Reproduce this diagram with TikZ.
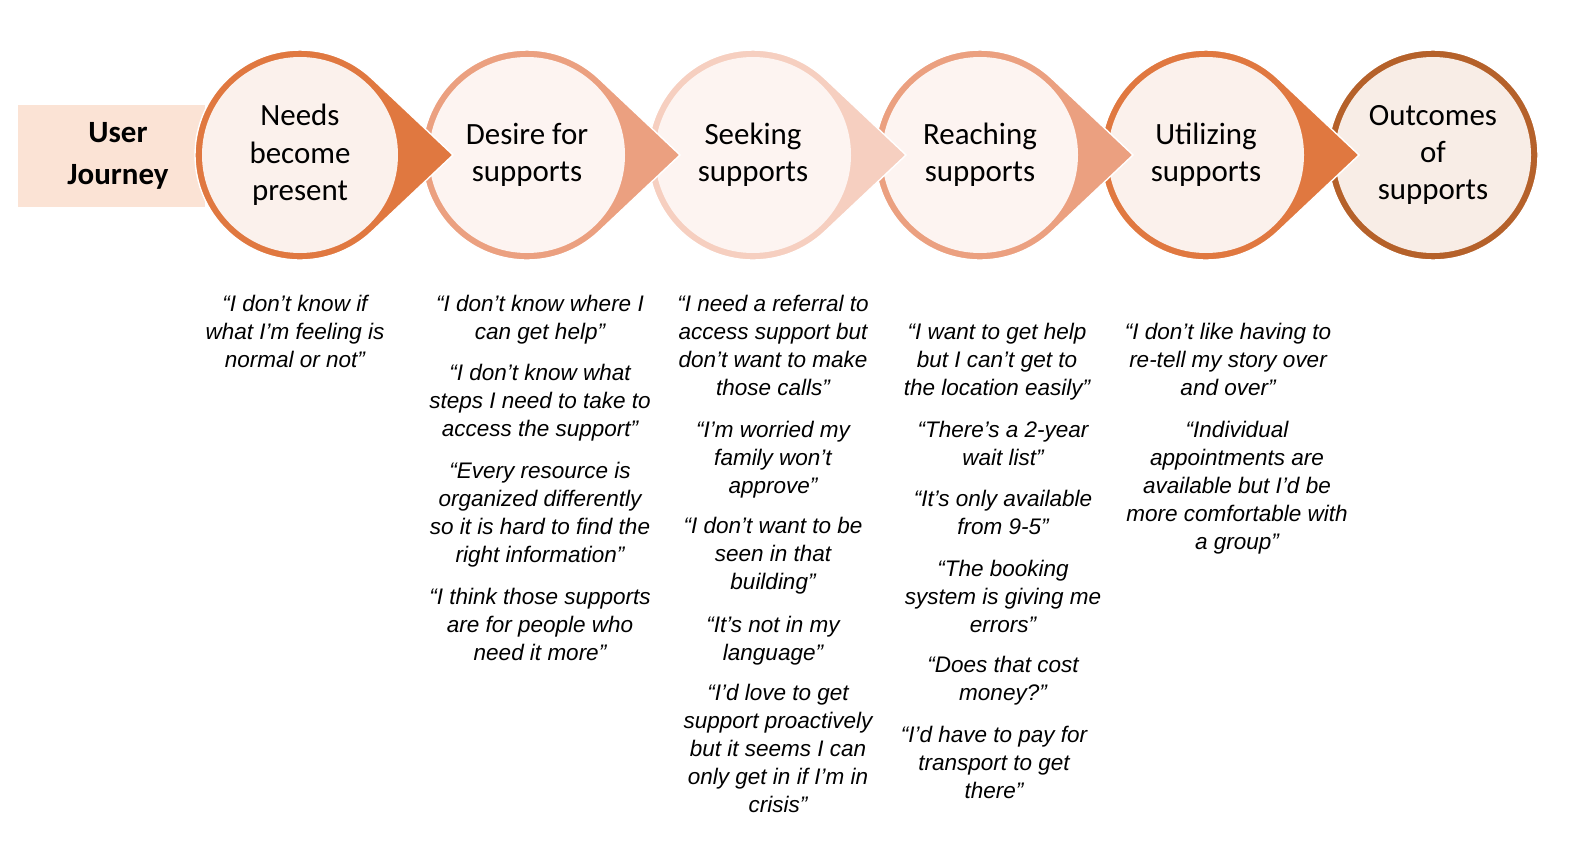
\documentclass[tikz,border=0pt]{standalone}
\usepackage{fontspec}
\setmainfont{Carlito}
\newfontfamily\quotefont{Liberation Sans}
\usetikzlibrary{positioning, calc}
\definecolor{ringA}{HTML}{E07840}
\definecolor{ringB}{HTML}{EBA080}
\definecolor{ringC}{HTML}{F6CFC0}
\definecolor{ringD}{HTML}{B5612A}
\definecolor{innerA}{HTML}{FBF1EC}
\definecolor{innerB}{HTML}{FDF4F1}
\definecolor{innerD}{HTML}{F8EDE6}
\definecolor{tagfill}{HTML}{FBE3D5}
\tikzset{
  stage/.style={align=center, font=\fontsize{22}{26.5}\selectfont},
  saying/.style={align=center, anchor=north, font=\quotefont\itshape\fontsize{16}{19.9}\selectfont},
}
% teardrop stage: centre, ring colour, inner colour, with tip or not
\newcommand{\dropstage}[4]{%
  \ifx#41\relax
    \fill[#2, draw=white, line width=1pt] ($(#1)+(153,0)$) -- ($(#1)+(46.7:105)$) arc[start angle=46.7, end angle=313.3, radius=105] -- cycle;
  \else
    \fill[#2, draw=white, line width=1pt] (#1) circle[radius=105];
  \fi
  \fill[#3] (#1) circle[radius=98];
}
\begin{document}
\begin{tikzpicture}[x=0.025cm, y=-0.025cm]
  \useasboundingbox (0,0) rectangle (1570,848);
  \fill[tagfill] (18,105) rectangle (205,207);
  \node[font=\bfseries\fontsize{22}{30}\selectfont, align=center] (tag) at (118,156) {User\\Journey};
  % stages, right to left so each tip lies on the next circle
  \coordinate (c6) at (1433,155);
  \coordinate (c5) at (1206,155);
  \coordinate (c4) at (980,155);
  \coordinate (c3) at (753,155);
  \coordinate (c2) at (527,155);
  \coordinate (c1) at (300,155);
  \dropstage{c6}{ringD}{innerD}{0}
  \dropstage{c5}{ringA}{innerA}{1}
  \dropstage{c4}{ringB}{innerB}{1}
  \dropstage{c3}{ringC}{innerB}{1}
  \dropstage{c2}{ringB}{innerB}{1}
  \dropstage{c1}{ringA}{innerA}{1}
  \node[stage] (needs) at (c1) {Needs\\become\\present};
  \node[stage] (desire) at (c2) {Desire for\\supports};
  \node[stage] (seeking) at (c3) {Seeking\\supports};
  \node[stage] (reaching) at (c4) {Reaching\\supports};
  \node[stage] (utilizing) at (c5) {Utilizing\\supports};
  \node[stage] (outcomes) at (c6) {Outcomes\\of\\supports};
  % sayings
  \node[saying] (n1) at (295,290) {“I don’t know if\\what I’m feeling is\\normal or not”};
  \node[saying] (d1) at (540,290) {“I don’t know where I\\can get help”};
  \node[saying] (d2) at (540,359) {“I don’t know what\\steps I need to take to\\access the support”};
  \node[saying] (d3) at (540,457) {“Every resource is\\organized differently\\so it is hard to find the\\right information”};
  \node[saying] (d4) at (540,583) {“I think those supports\\are for people who\\need it more”};
  \node[saying] (s1) at (773,290) {“I need a referral to\\access support but\\don’t want to make\\those calls”};
  \node[saying] (s2) at (773,416) {“I’m worried my\\family won’t\\approve”};
  \node[saying] (s3) at (773,512) {“I don’t want to be\\seen in that\\building”};
  \node[saying] (s4) at (773,611) {“It’s not in my\\language”};
  \node[saying] (s5) at (778,679) {“I’d love to get\\support proactively\\but it seems I can\\only get in if I’m in\\crisis”};
  \node[saying] (r1) at (997,318) {“I want to get help\\but I can’t get to\\the location easily”};
  \node[saying] (r2) at (1003,416) {“There’s a 2-year\\wait list”};
  \node[saying] (r3) at (1003,485) {“It’s only available\\from 9-5”};
  \node[saying] (r4) at (1003,555) {“The booking\\system is giving me\\errors”};
  \node[saying] (r5) at (1003,651) {“Does that cost\\money?”};
  \node[saying] (r6) at (994,721) {“I’d have to pay for\\transport to get\\there”};
  \node[saying] (u1) at (1228,318) {“I don’t like having to\\re-tell my story over\\and over”};
  \node[saying] (u2) at (1237,416) {“Individual\\appointments are\\available but I’d be\\more comfortable with\\a group”};
\end{tikzpicture}
\end{document}
